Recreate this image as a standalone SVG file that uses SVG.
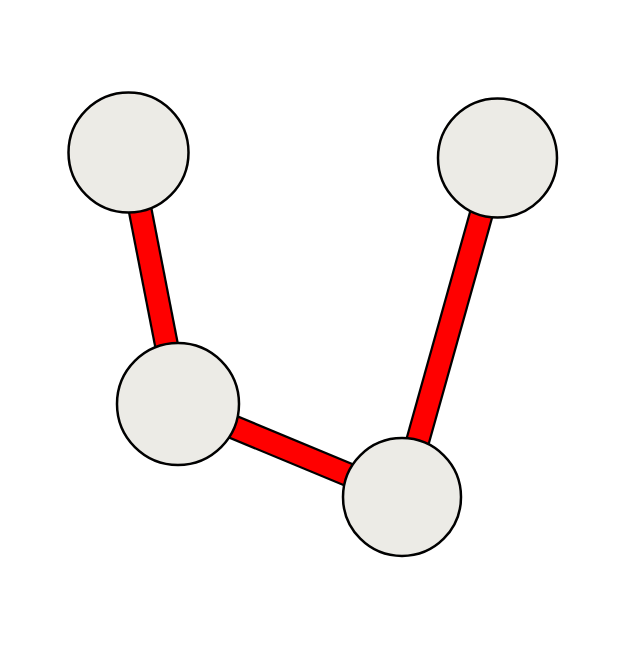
<svg xmlns="http://www.w3.org/2000/svg" width="640" height="651" viewBox="0 0 640 651">
<style>
.edge-o{stroke:#000;stroke-width:25;stroke-linecap:butt;fill:none}
.edge-i{stroke:#ff0000;stroke-width:20.5;stroke-linecap:butt;fill:none}
.node{fill:#ecebe6;stroke:#000;stroke-width:2.5}
</style>
<rect width="640" height="651" fill="#fff"/>
<g id="connectors">
<line class="edge-o" x1="129" y1="153" x2="178" y2="404"/>
<line class="edge-o" x1="178" y1="404" x2="402" y2="497"/>
<line class="edge-o" x1="402" y1="497" x2="497" y2="158"/>
<line class="edge-i" x1="129" y1="153" x2="178" y2="404"/>
<line class="edge-i" x1="178" y1="404" x2="402" y2="497"/>
<line class="edge-i" x1="402" y1="497" x2="497" y2="158"/>
</g>
<g id="node1"><circle class="node" cx="128.5" cy="152.5" r="60"/></g>
<g id="node2"><circle class="node" cx="497.5" cy="158" r="59.5"/></g>
<g id="node3"><circle class="node" cx="178" cy="404" r="61"/></g>
<g id="node4"><circle class="node" cx="402" cy="497" r="59"/></g>
</svg>
